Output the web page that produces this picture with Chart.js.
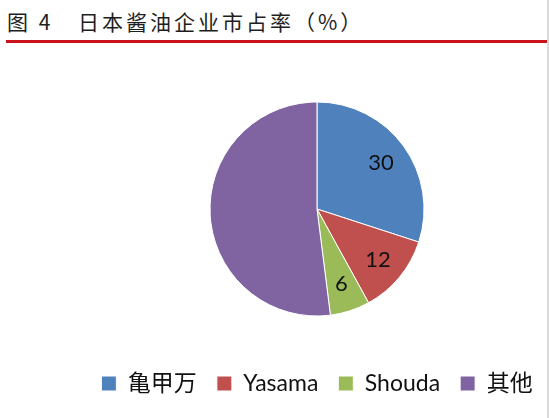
<!DOCTYPE html>
<html>
<head>
<meta charset="utf-8">
<script src="https://cdn.jsdelivr.net/npm/chart.js@4"></script>
<style>
    html, body { margin: 0; padding: 0; background: #fff; overflow: hidden; }
    body { width: 549px; height: 418px; position: relative; }
    .title { position: absolute; top: 6px; font-family: 'Noto Sans CJK SC', sans-serif; font-size: 21px; line-height: 30px; color: #1e1e1e; letter-spacing: 3px; white-space: nowrap; }
    #rule { position: absolute; left: 6px; top: 40px; width: 541px; height: 3px; background: #c8141a; }
    #edge { position: absolute; left: 547px; top: 0; width: 2px; height: 418px; background: #dadada; }
    #chart { position: absolute; left: 59px; top: 45px; }
</style>
</head>
<body>
<div class="title" style="left:7px">图&nbsp;4</div>
<div class="title" style="left:78px">日本酱油企业市占率（%）</div>
<div id="rule"></div>
<div id="edge"></div>
<canvas id="chart" width="520" height="360"></canvas>

<script>
// Japanese soy sauce market share (%)
const categories = ['亀甲万', 'Yasama', 'Shouda', '其他'];
const shares = [30, 12, 6, 52];
const colors = ['#4f81bd', '#c0504d', '#9bbb59', '#8064a2'];
const labelShown = [true, true, true, false];

// Draw values inside the slices
const sliceLabels = {
    id: 'sliceLabels',
    afterDatasetsDraw(chart) {
        const ctx = chart.ctx;
        const meta = chart.getDatasetMeta(0);
        ctx.save();
        ctx.font = '22px Lato, sans-serif';
        ctx.fillStyle = '#111';
        ctx.textAlign = 'center';
        ctx.textBaseline = 'middle';
        meta.data.forEach(function(arc, i) {
            if (!labelShown[i]) return;
            const mid = (arc.startAngle + arc.endAngle) / 2;
            const r = arc.outerRadius * 0.74;
            ctx.fillText(String(shares[i]), arc.x + Math.cos(mid) * r, arc.y + Math.sin(mid) * r);
        });
        ctx.restore();
    }
};

new Chart(document.getElementById('chart'), {
    type: 'pie',
    data: {
        labels: categories,
        datasets: [{
            data: shares,
            backgroundColor: colors,
            borderColor: '#ffffff',
            borderWidth: 1,
            radius: 107
        }]
    },
    options: {
        responsive: false,
        animation: false,
        layout: {
            padding: { top: 21, left: 0, right: 4 }
        },
        plugins: {
            legend: {
                position: 'bottom',
                labels: {
                    boxWidth: 15,
                    boxHeight: 15,
                    padding: 20,
                    color: '#111',
                    font: { family: "Lato, 'Noto Sans CJK JP', sans-serif", size: 23 }
                }
            },
            tooltip: { enabled: false }
        }
    },
    plugins: [sliceLabels]
});
</script>
</body>
</html>
